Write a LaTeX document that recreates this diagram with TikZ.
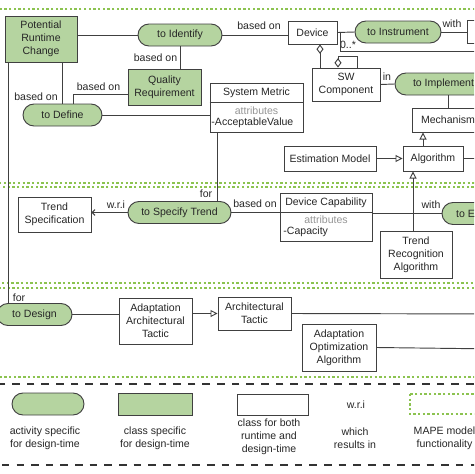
\documentclass[tikz,border=0pt]{standalone}
\usepackage{fontspec}
\setmainfont{Liberation Sans}
\usetikzlibrary{arrows.meta}
\definecolor{actgreen}{RGB}{181,212,160}
\definecolor{mapegreen}{RGB}{140,195,80}
\definecolor{linegrey}{RGB}{64,64,64}
\definecolor{attrgrey}{RGB}{150,150,150}
\begin{document}
\begin{tikzpicture}[x=0.03cm, y=-0.03cm, line width=0.8pt, linegrey, font=\fontsize{9}{11}\selectfont,
  class node/.style={draw=linegrey, fill=white, align=center, inner sep=0pt, text=black!85},
  green node/.style={class node, fill=actgreen},
  act node/.style={draw=linegrey, fill=actgreen, rounded corners=3.3mm, minimum height=6.6mm, inner sep=0pt, text=black!85},
  label node/.style={inner sep=0pt, text=black!85},
  mape/.style={draw=mapegreen, line width=0.9pt, dash pattern=on 2pt off 2pt},
  gen/.style={-{Triangle[open, length=6pt, width=6pt]}},
  agg/.style={{Diamond[open, length=8pt, width=6pt]}-},
  wri/.style={-{Straight Barb[length=2.5pt, width=5pt]}}]
\useasboundingbox (0,0) rectangle (474,474);
\clip (0,0) rectangle (474,474);
\draw[mape] (-5,9) rectangle (600,183);
\draw[mape] (-5,187) rectangle (600,283);
\draw[mape] (-5,288) rectangle (600,377);
\draw[black!80, line width=1.3pt, dash pattern=on 6.5pt off 6pt] (-5,384) rectangle (600,465);

\node [green node, minimum width=21.6mm, minimum height=13.8mm] (prc) at (41,39) {Potential\\Runtime\\Change};
\node [act node, minimum width=25.2mm] (ident) at (180,35) {to Identify};
\node [green node, minimum width=21.9mm, minimum height=10.8mm] (qr) at (164.5,87) {Quality\\Requirement};
\node [act node, minimum width=23.7mm] (define) at (62.5,115) {to Define};
\node [class node, minimum width=27.9mm, minimum height=14.7mm] (sysm) at (256.5,107.5) {};
\node [label node] (sysmT) at (256.5,93) {System Metric};
\node [label node, text=attrgrey] (sysmA) at (256.5,111) {attributes};
\node [label node, anchor=west] (sysmV) at (211,123) {-AcceptableValue};
\node [class node, minimum width=14.7mm, minimum height=6.9mm] (device) at (312.5,32.5) {Device};
\node [act node, minimum width=25.8mm] (instr) at (398,32) {to Instrument};
\node [class node, minimum width=24mm, minimum height=6.9mm, anchor=west] (rbox) at (467,31.5) {};
\node [class node, minimum width=20.4mm, minimum height=9.9mm] (swc) at (346,84.5) {SW\\Component};
\node [act node, minimum width=29.1mm] (impl) at (443.5,84) {to Implement};
\node [class node, minimum width=21.6mm, minimum height=7.2mm] (mech) at (448,120) {Mechanism};
\node [class node, minimum width=18mm, minimum height=7.5mm] (algo) at (433,158.5) {Algorithm};
\node [class node, minimum width=27.6mm, minimum height=7.5mm] (estm) at (330,158.5) {Estimation Model};

\node [class node, minimum width=21.9mm, minimum height=10.5mm] (tspec) at (54.5,214.5) {Trend\\Specification};
\node [act node, minimum width=30.9mm] (strend) at (179.5,212.5) {to Specify Trend};
\node [class node, minimum width=27.6mm, minimum height=14.4mm] (devcap) at (326,217) {};
\node [label node] (devcapT) at (326,203) {Device Capability};
\node [label node, text=attrgrey] (devcapA) at (326,220) {attributes};
\node [label node, anchor=west] (devcapV) at (283,232) {-Capacity};
\node [act node, minimum width=24.3mm] (estim) at (482.5,213.5) {to Estimate};
\node [class node, minimum width=21.6mm, minimum height=14.1mm] (tra) at (416,254.5) {Trend\\Recognition\\Algorithm};

\node [act node, minimum width=22.5mm] (design) at (34.5,314.5) {to Design};
\node [class node, minimum width=21.9mm, minimum height=13.8mm] (aat) at (155.5,321) {Adaptation\\Architectural\\Tactic};
\node [class node, minimum width=21.9mm, minimum height=9.9mm] (atac) at (254.5,313.5) {Architectural\\Tactic};
\node [class node, minimum width=22.2mm, minimum height=14.1mm] (aoa) at (339,347.5) {Adaptation\\Optimization\\Algorithm};

\node [label node] (bDevice) at (259,26) {based on};
\node [label node] (bQr) at (155.5,58) {based on};
\node [label node] (bDefine) at (98.5,87) {based on};
\node [label node] (bPrc) at (36,97) {based on};
\node [label node] (wInstr) at (452,24) {with};
\node [label node] (mult) at (348,45) {0..*};
\node [label node] (inImpl) at (387,77) {in};
\node [label node] (wriSpec) at (116,205) {w.r.i};
\node [label node] (forTrend) at (206,194) {for};
\node [label node] (bDevcap) at (255,204) {based on};
\node [label node] (wEstim) at (431,205) {with};
\node [label node] (forDesign) at (19,298) {for};

\node [act node, minimum width=21.6mm] (lgAct) at (48,404) {};
\node [label node, align=center] (lgActT) at (45,438) {activity specific\\for design-time};
\node [green node, minimum width=22.2mm, minimum height=6.6mm] (lgCls) at (155,404) {};
\node [label node, align=center] (lgClsT) at (155,438) {class specific\\for design-time};
\node [class node, minimum width=21.3mm, minimum height=6.3mm] (lgBoth) at (272.5,404.5) {};
\node [label node, align=center] (lgBothT) at (269,437) {class for both\\runtime and\\design-time};
\node [label node] (lgWri) at (356,405) {w.r.i};
\node [label node, align=center] (lgWriT) at (355,438) {which\\results in};
\node [label node, align=center] (lgMapeT) at (444.5,438) {MAPE model\\functionality};
\draw[mape] (410,394) rectangle (560,414);

\coordinate (lft) at ([xshift=1.2mm]prc.south west);
\coordinate (smx) at ([xshift=2.4mm]sysm.south west);
\coordinate (devbr) at ([xshift=1mm]device.east);
\coordinate (devR) at (500,51);
\coordinate (devag) at ([xshift=2.25mm]device.south);
\coordinate (algup) at ([xshift=-3mm]algo.north);
\coordinate (algR) at (500,158.5);
\coordinate (trup) at ([xshift=-0.9mm]tra.north);
\coordinate (atR) at (500,314);
\coordinate (aoR) at (500,349);

\draw (prc.east |- ident) -- (ident.west);
\draw (ident.east) -- (ident.east -| device.west);
\draw (ident.south) -- (ident.south |- qr.north);
\draw ([yshift=-2.1mm]qr.west) -| ([xshift=3.15mm]define.north);
\draw (define.north |- prc.south) -- (define.north);
\draw (define.east) -- (define.east -| sysm.west);
\draw (lft) -- (lft |- design.north);
\draw (smx) -- (smx |- strend.north);
\draw ([yshift=-6mm]sysm.north west) -- ([yshift=-6mm]sysm.north east);
\draw (device.east) -- (instr.west);
\draw (devbr) |- (devR);
\draw (instr.east) -- (instr.east -| rbox.west);
\draw[agg] (devag) -- (devag |- swc.north);
\draw[agg] ([xshift=-2.4mm]swc.north) |- ([xshift=3.3mm, yshift=3.3mm]swc.north) -- ([xshift=3.3mm]swc.north);
\draw (swc.east) -- (impl.west);
\draw (mech.north |- impl.south) -- (mech.north);
\draw[gen] (algup) -- (algup |- mech.south);
\draw[gen] (estm.east) -- (algo.west);
\draw (algo.east) -- (algR);
\draw[wri] (strend.west) -- (strend.west -| tspec.east);
\draw (strend.east) -- (strend.east -| devcap.west);
\draw ([yshift=-6mm]devcap.north west) -- ([yshift=-6mm]devcap.north east);
\draw (devcap.east |- estim) -- (estim.west);
\draw[gen] (trup) -- (trup |- algo.south);
\draw (design.east) -- (design.east -| aat.west);
\draw[gen] (aat.east |- atac) -- (atac.west);
\draw (atac.east) -- (atR);
\draw (aoa.east) -- (aoR);
\end{tikzpicture}
\end{document}
